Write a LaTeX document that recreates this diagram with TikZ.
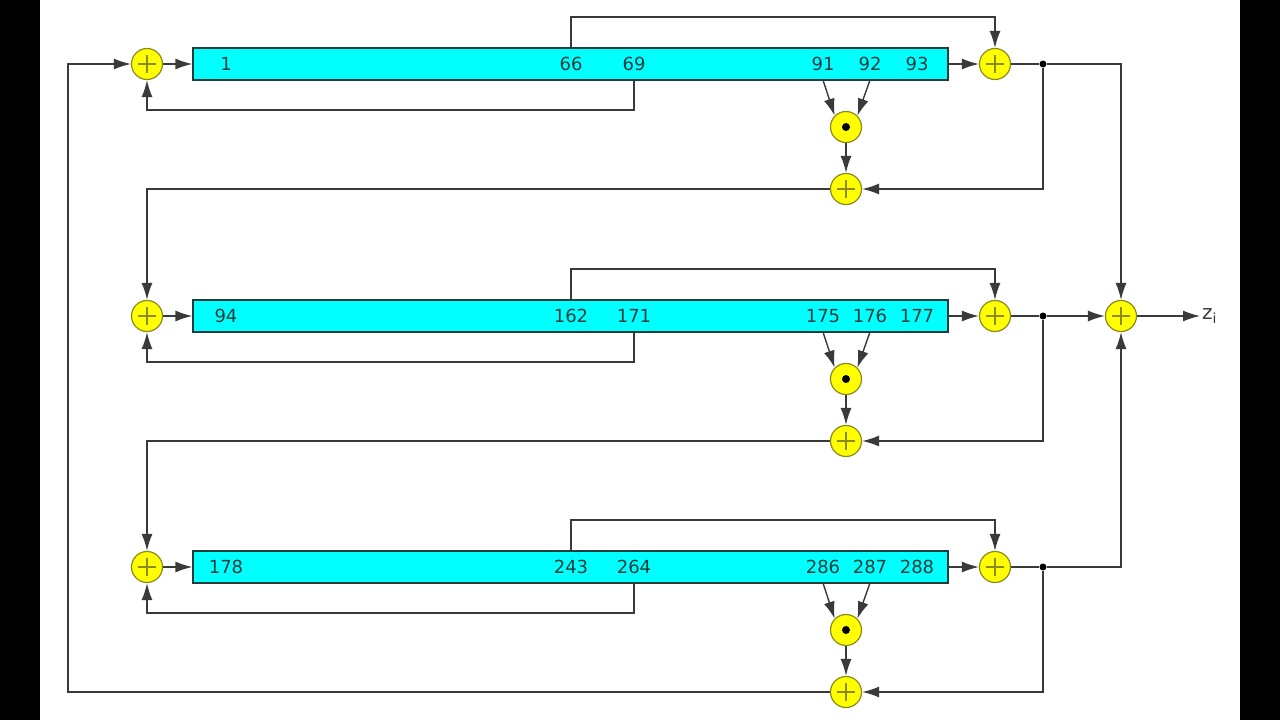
\documentclass[tikz,border=0pt]{standalone}
\usepackage{fontspec}
\setmainfont{DejaVu Sans}
\usetikzlibrary{arrows.meta}
\definecolor{reg}{HTML}{00FFFF}
\definecolor{gate}{HTML}{FFFF00}
\definecolor{gateb}{HTML}{8A8A20}
\definecolor{txt}{HTML}{1E3C3C}
\definecolor{ln}{HTML}{3A3A3A}
\tikzset{
 xorg/.style={circle,draw=gateb,fill=gate,minimum size=31pt,inner sep=0pt,line width=1.2pt,
   path picture={\draw[gateb,line width=1.2pt] ([xshift=-9pt]path picture bounding box.center)--([xshift=9pt]path picture bounding box.center) ([yshift=-9pt]path picture bounding box.center)--([yshift=9pt]path picture bounding box.center);}},
 andg/.style={circle,draw=gateb,fill=gate,minimum size=31pt,inner sep=0pt,line width=1.2pt,
   path picture={\fill[black] (path picture bounding box.center) circle (4pt);}},
 regbox/.style={draw=txt,fill=reg,minimum width=755pt,minimum height=32pt,inner sep=0pt,line width=1.2pt},
 lbl/.style={text=txt,font=\fontsize{18}{18}\selectfont},
 wire/.style={draw=ln,line width=1.4pt},
 arr/.style={wire,-{Latex[length=17pt,width=11pt]}},
 jdot/.style={circle,fill=black,inner sep=0pt,minimum size=7pt},
}
\begin{document}
\begin{tikzpicture}[x=1pt,y=-1pt]
\useasboundingbox (0,0) rectangle (1280,720);
\fill[black] (0,0) rectangle (40,720);
\fill[black] (1240,0) rectangle (1280,720);
\foreach \r/\y/\a/\b/\c/\d/\e/\f in {1/64/1/66/69/91/92/93, 2/316/94/162/171/175/176/177, 3/567/178/243/264/286/287/288}{
 \node[regbox] (R\r) at (570.5,\y) {};
 \node[xorg] (L\r) at (147,\y) {};
 \node[xorg] (X\r) at (995,\y) {};
 \node[jdot] (D\r) at (1043,\y) {};
 \node[andg] (A\r) at (846,\y+63) {};
 \node[xorg] (B\r) at (846,\y+125) {};
 \node[lbl] (t1\r) at (226,\y) {\a};
 \node[lbl] (t2\r) at (571,\y) {\b};
 \node[lbl] (t3\r) at (634,\y) {\c};
 \node[lbl] (t4\r) at (823,\y) {\d};
 \node[lbl] (t5\r) at (870,\y) {\e};
 \node[lbl] (t6\r) at (917,\y) {\f};
 \draw[arr] (L\r) -- (R\r.west|-L\r);
 \draw[arr] (R\r.east|-X\r) -- (X\r);
 \draw[wire] (X\r) -- (D\r);
 \draw[arr] (t2\r|-R\r.north) -- (571,\y-47) -| (X\r.north);
 \draw[arr] (t3\r|-R\r.south) -- (634,\y+46) -| (L\r.south);
 \draw[arr] (823,\y+16) -- (A\r.north west);
 \draw[arr] (870,\y+16) -- (A\r.north east);
 \draw[arr] (A\r) -- (B\r);
 \draw[arr] (D\r) |- (B\r);
}
\node[xorg] (F) at (1121,316) {};
\coordinate (zend) at (1200,316);
\node[font=\fontsize{20}{20}\selectfont,text=ln,anchor=west,inner sep=2pt] (z) at (zend) {z\textsubscript{i}};
\draw[arr] (B1) -| (L2);
\draw[arr] (B2) -| (L3);
\draw[arr] (B3) -| (68,64) -- (L1);
\draw[arr] (D1) -| (F);
\draw[arr] (D2) -- (F);
\draw[arr] (D3) -| (F);
\draw[arr] (F) -- (zend);
\end{tikzpicture}
\end{document}
